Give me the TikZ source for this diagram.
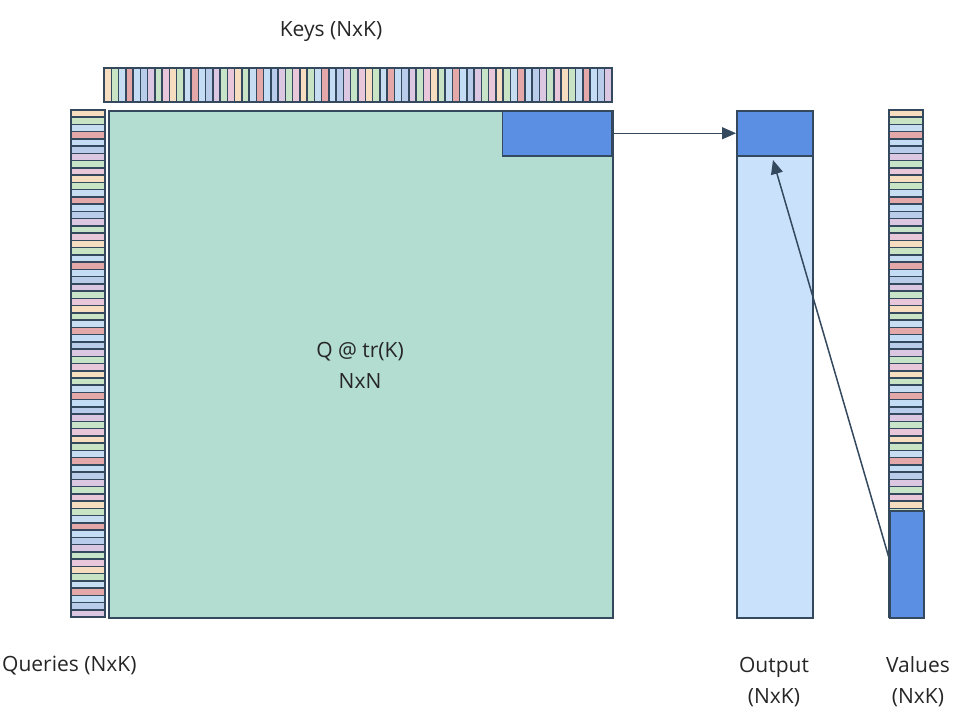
\documentclass[tikz,border=0pt]{standalone}
\usepackage{fontspec}
\setmainfont{Open Sans}
\usetikzlibrary{arrows.meta}
\definecolor{s0}{HTML}{F6DDC0}
\definecolor{s1}{HTML}{C9E4C4}
\definecolor{s2}{HTML}{C7DDF2}
\definecolor{s3}{HTML}{E5A8A8}
\definecolor{s4}{HTML}{C5DCF5}
\definecolor{s5}{HTML}{B9CDEB}
\definecolor{s6}{HTML}{DCC7E2}
\definecolor{s7}{HTML}{C8E4C8}
\definecolor{s8}{HTML}{E8C7DA}
\definecolor{edge}{HTML}{34495E}
\definecolor{mat}{HTML}{B3DDD0}
\definecolor{blk}{HTML}{5B8FE3}
\definecolor{outc}{HTML}{C9E1FA}
\tikzset{box/.style={draw=edge,line width=1.5pt},
 arr/.style={draw=edge,line width=1.5pt,-{Triangle[length=14pt,width=12pt]}},
 lbl/.style={font=\fontsize{21}{31}\selectfont,align=center,text=black!85}}
\begin{document}
\begin{tikzpicture}[x=1pt,y=-1pt]
\useasboundingbox (0,0) rectangle (956,720);
% keys
\foreach \i in {0,...,69}{
 \pgfmathtruncatemacro\c{mod(\i,9)}
 \draw[box,fill=s\c] (104+\i*7.257,68) rectangle (104+\i*7.257+7.257,102);}
% queries
\foreach \i in {0,...,69}{
 \pgfmathtruncatemacro\c{mod(\i,9)}
 \draw[box,fill=s\c] (71,110+\i*7.243) rectangle (105,110+\i*7.243+7.243);}
% values
\foreach \i in {0,...,69}{
 \pgfmathtruncatemacro\c{mod(\i,9)}
 \draw[box,fill=s\c] (889,110+\i*7.243) rectangle (923,110+\i*7.243+7.243);}
\node[box,fill=blk,minimum width=34pt,minimum height=107pt,inner sep=0,anchor=north west] (vb) at (889,510) {};
% matrix
\node[box,fill=mat,minimum width=504pt,minimum height=507pt,inner sep=0,anchor=north west] (m) at (108,110) {};
\node[box,fill=blk,minimum width=109pt,minimum height=45pt,inner sep=0,anchor=north east] (mb) at (612,110) {};
% output
\node[box,fill=outc,minimum width=76pt,minimum height=507pt,inner sep=0,anchor=north west] (o) at (736,110) {};
\node[box,fill=blk,minimum width=76pt,minimum height=45pt,inner sep=0,anchor=north west] (ob) at (736,110) {};
\node[lbl] (t1) at (360,365) {Q @ tr(K)\\NxN};
\node[lbl] (t2) at (331,32) {Keys (NxK)};
\node[lbl,anchor=west,inner sep=0] (t3) at (2,666) {Queries (NxK)};
\node[lbl] (t4) at (774,682) {Output\\(NxK)};
\node[lbl] (t5) at (918,682) {Values\\(NxK)};
\draw[arr] (mb.east) -- (ob.west);
\coordinate (vs) at (889,558);
\draw[arr] (vs) -- (773,160);
\end{tikzpicture}
\end{document}
